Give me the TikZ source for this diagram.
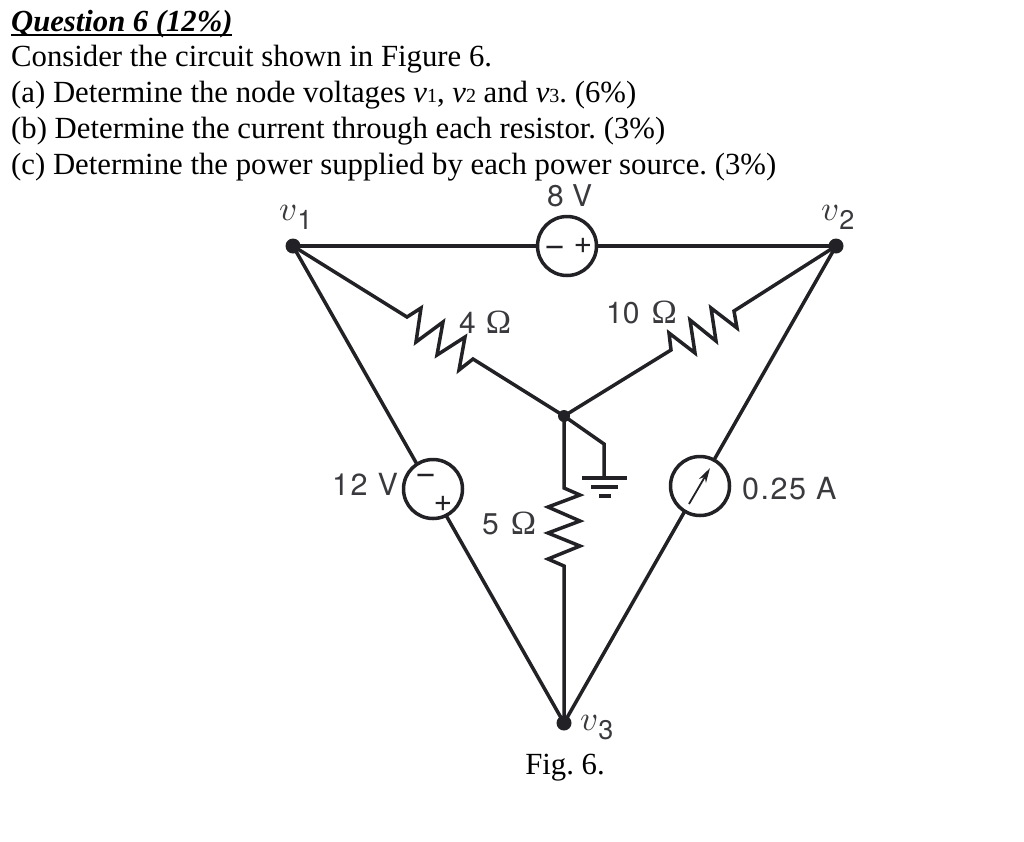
\documentclass[tikz,border=0pt]{standalone}
\usepackage{fontspec}
\usepackage{graphicx}
\usetikzlibrary{arrows.meta}
\setmainfont{Liberation Serif}
\newfontfamily\lblsans{TeX Gyre Heros}
\newfontfamily\lblwide[LetterSpace=5]{TeX Gyre Heros}
\newfontfamily\lblserif{Liberation Serif}
\definecolor{ink}{HTML}{222226}
\definecolor{lbl}{HTML}{3A3A3E}
\tikzset{
  x=1pt,y=-1pt,
  wire/.style={draw=ink,line width=3.5pt,line join=miter,miter limit=3},
  src/.style={circle,draw=ink,line width=3.5pt,fill=white,minimum size=59pt,inner sep=0pt},
  dot/.style={circle,fill=ink,minimum size=15pt,inner sep=0pt},
  jdot/.style={circle,fill=ink,minimum size=12pt,inner sep=0pt},
  body/.style={anchor=base west,inner sep=0pt,font=\fontsize{30.75pt}{33pt}\selectfont\frenchspacing,text=black},
  lab/.style={inner sep=0pt,text=lbl,font=\fontsize{30pt}{33pt}\selectfont\lblsans,anchor=base west},
  widelab/.style={lab,font=\fontsize{30.5pt}{33pt}\selectfont\lblwide},
  minussign/.style={inner sep=0pt,text=ink,font=\fontsize{36pt}{36pt}\selectfont\lblsans,anchor=center},
  plussign/.style={inner sep=0pt,text=ink,font=\fontsize{32pt}{32pt}\selectfont\lblsans,anchor=center},
}
\newcommand{\smalldig}[1]{{\fontsize{20pt}{21pt}\selectfont #1}}
\newcommand{\volt}[1]{\scalebox{3.5}{\fontsize{10pt}{12pt}\selectfont$v$}{\fontsize{27pt}{30pt}\selectfont\lblsans\raisebox{-9pt}{#1}}}
\newcommand{\ohm}{{\fontsize{34pt}{36pt}\selectfont\lblserif Ω}}
\begin{document}
\begin{tikzpicture}
\useasboundingbox (0,0) rectangle (1024,841);
% title & text
\node[body,font=\fontsize{30.65pt}{33pt}\selectfont\bfseries\itshape] (t0) at (11,31) {Question 6 (12\%)};
\draw[black,line width=2pt] (11,35) -- (232,35);
\node[body] (t1) at (11,66) {Consider the circuit shown in Figure 6.};
\node[body] (t2) at (11,102) {(a) Determine the node voltages \textit{v}\smalldig{1}, \textit{v}\smalldig{2} and \textit{v}\smalldig{3}. (6\%)};
\node[body] (t3) at (11,138) {(b) Determine the current through each resistor. (3\%)};
\node[body] (t4) at (11,174) {(c) Determine the power supplied by each power source. (3\%)};
\node[body,anchor=base] (fig) at (565,774) {Fig. 6.};
% nodes
\node[dot] (v1) at (293,246) {};
\node[dot] (v2) at (836,246) {};
\node[dot] (v3) at (564,723) {};
\node[jdot] (c) at (564,416) {};
\coordinate (gt) at (604,478);
% connectors under sources
\draw[wire,line width=4pt] (v1.center) -- (v2.center);
\draw[wire] (v1.center) -- (v3.center);
\draw[wire] (v2.center) -- (v3.center);
% resistors
\draw[wire] (v1.center) -- (407,317) -- (421,308) -- (416,342) -- (443,322) -- (437,355) -- (465,337) -- (459,370) -- (473,359) -- (c.center);
\draw[wire] (c.center) -- (671,350) -- (669,333) -- (695,353) -- (690,320) -- (716,341) -- (711,308) -- (737,328) -- (734,311) -- (v2.center);
\draw[wire] (c.center) -- (564,488) -- (580,495) -- (548,507) -- (580,521) -- (548,533) -- (580,546) -- (548,559) -- (564,566) -- (v3.center);
% ground
\draw[wire] (c.center) -- (604,444) -- (gt);
\draw[wire] (582,478) -- (627,478);
\draw[wire] (591,487) -- (618,487);
\draw[wire] (599,496) -- (611,496);
% sources
\node[src] (s8) at (567,246) {};
\node[src] (s12) at (433,489) {};
\node[src] (si) at (700,486) {};
\draw[-{Stealth[length=15pt,width=8pt]},draw=ink,line width=1.8pt] (689,504) -- (710,468);
\node[minussign] (m8) at (555.5,251) {\textminus};
\node[plussign] (p8) at (583,246) {+};
\node[minussign] (m12) at (426,479) {\textminus};
\node[plussign] (p12) at (443,504) {+};
% labels
\node[lab] (l8) at (547,206) {8 V};
\node[lab] (l4) at (459,333) {4\hspace{10pt}\ohm};
\node[lab] (l10) at (606,323) {10\hspace{12pt}\ohm};
\node[widelab] (l12) at (332,495) {12 V};
\node[lab] (l5) at (482,534) {5\hspace{12pt}\ohm};
\node[widelab] (l025) at (742,499) {0.25 A};
\node[lab] (lv1) at (279,220) {\volt{1}};
\node[lab] (lv2) at (821,220) {\volt{2}};
\node[lab] (lv3) at (580,730) {\volt{3}};
\end{tikzpicture}
\end{document}
